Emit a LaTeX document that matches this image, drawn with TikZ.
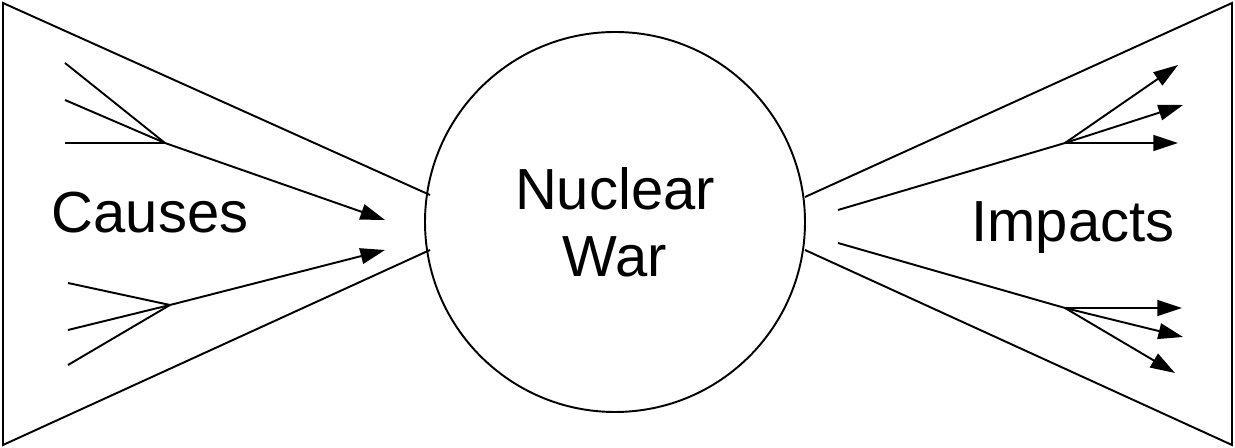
\documentclass[tikz,border=0pt]{standalone}
\usepackage{fontspec}
\setmainfont{Liberation Sans}
\usetikzlibrary{arrows.meta}
\begin{document}
\begin{tikzpicture}[x=0.02cm, y=-0.02cm, line width=1.1pt,
	arr/.style = {-{Triangle[length=14pt,width=9pt]}},
	lbl/.style = {font=\fontsize{33}{38}\selectfont, align=center}]
	\useasboundingbox (0,0) rectangle (1235,448);
	% outline
	\coordinate (lt) at (3,3); \coordinate (lb) at (3,445);
	\coordinate (rt) at (1232,3); \coordinate (rb) at (1232,445);
	\coordinate (clt) at (430,195); \coordinate (clb) at (430,250);
	\coordinate (crt) at (805,197); \coordinate (crb) at (805,250);
	\node[draw, circle, minimum size=380*0.02cm, inner sep=0pt, lbl] (war) at (615,222) {Nuclear\\War};
	\draw (clt) -- (lt) -- (lb) -- (clb);
	\draw (crt) -- (rt) -- (rb) -- (crb);
	% causes
	\coordinate (c1) at (165,143); \coordinate (c2) at (170,305);
	\foreach \y in {63,100,143} \draw (65,\y) coordinate (a) -- (c1);
	\foreach \y in {283,330,365} \draw (68,\y) coordinate (a) -- (c2);
	\coordinate (ce1) at (385,220); \coordinate (ce2) at (385,250);
	\draw[arr] (c1) -- (ce1);
	\draw[arr] (c2) -- (ce2);
	\node[lbl] (causes) at (150,213) {Causes};
	% impacts
	\coordinate (i1) at (1065,143); \coordinate (i2) at (1065,308);
	\coordinate (is1) at (838,210); \coordinate (is2) at (838,243);
	\draw (is1) -- (i1);
	\draw (is2) -- (i2);
	\foreach \x/\y in {1178/65,1183/105,1178/143} \draw[arr] (i1) -- (\x,\y);
	\foreach \x/\y in {1182/308,1183/337,1175/373} \draw[arr] (i2) -- (\x,\y);
	\node[lbl] (impacts) at (1073,228) {Impacts};
\end{tikzpicture}
\end{document}
